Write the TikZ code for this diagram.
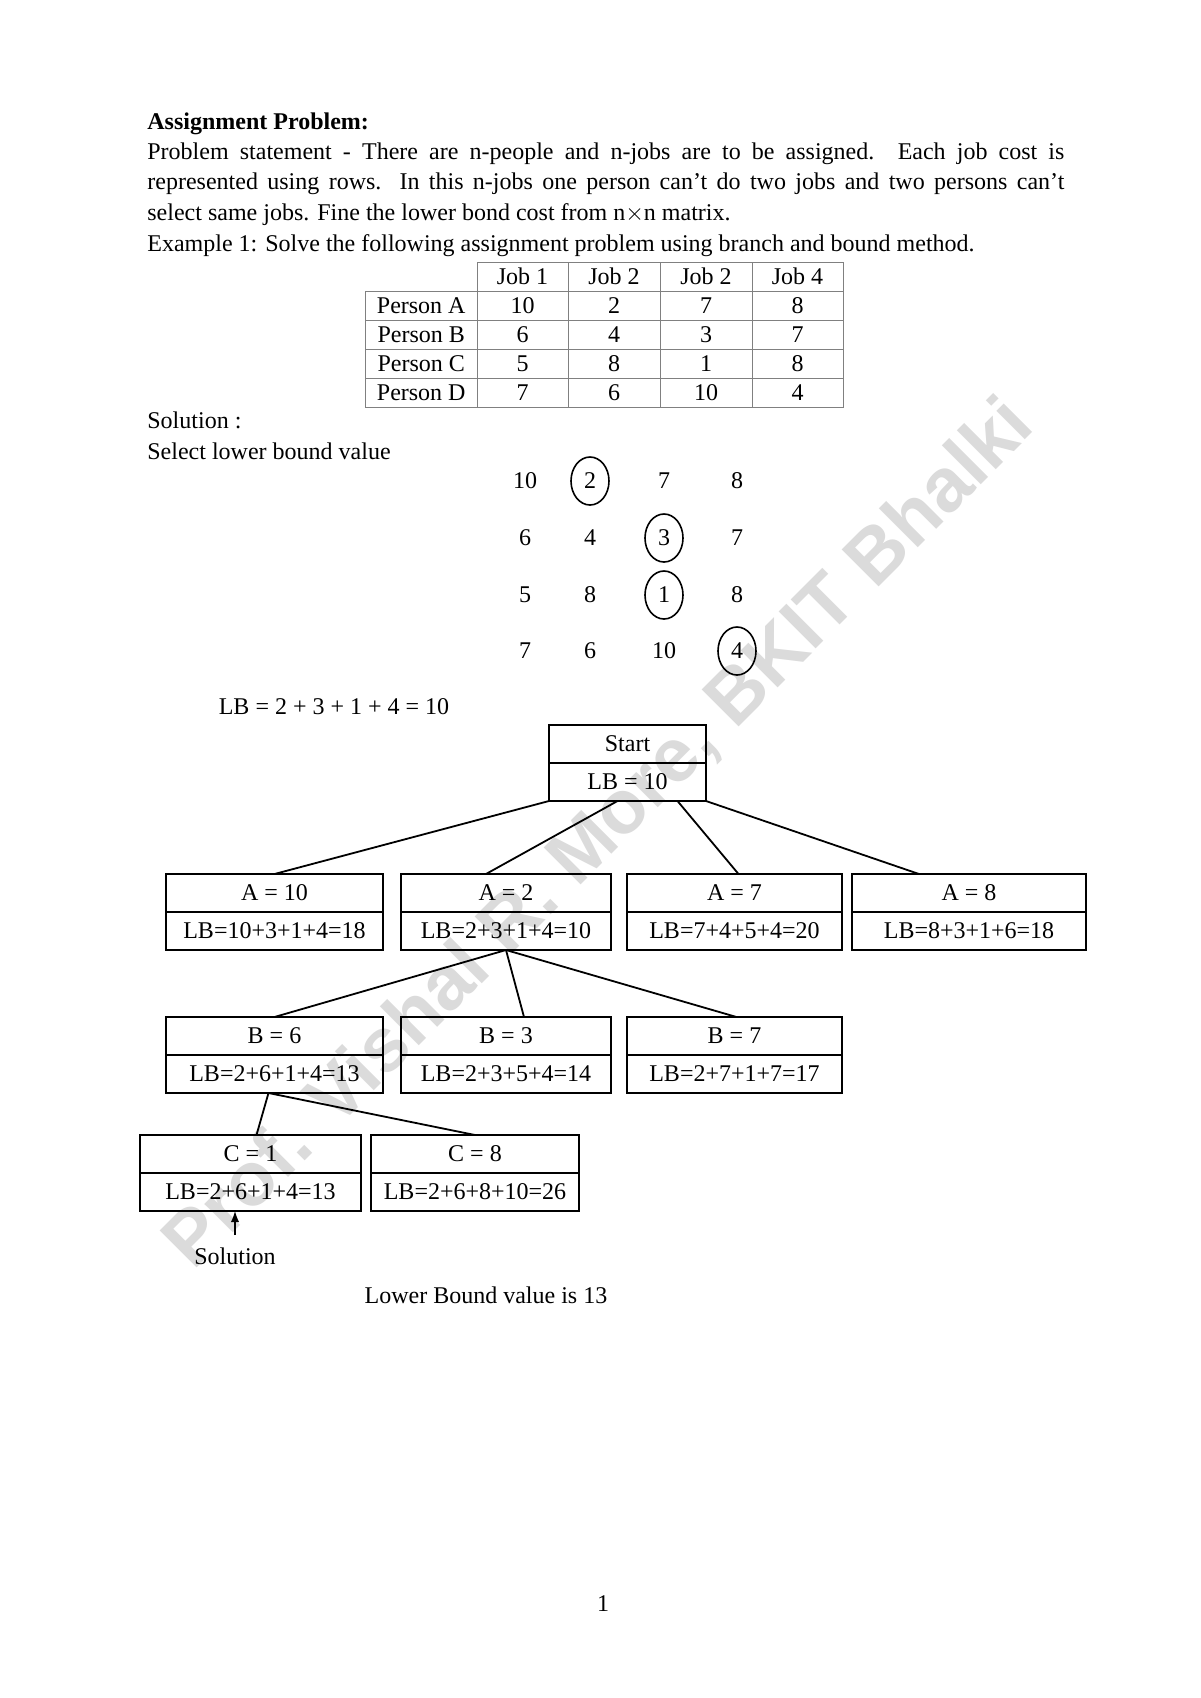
\documentclass[tikz,border=0pt]{standalone}
\usepackage{fontspec}
\usetikzlibrary{shapes.geometric}
\setmainfont{Liberation Serif}
\newfontfamily\wmfont{Liberation Sans}
\begin{document}
\begin{tikzpicture}[x=0.5pt,y=-0.5pt,
  every node/.style={font=\fontsize{12}{15.3}\selectfont, inner sep=0pt},
  cell/.style={draw, line width=1.1pt, minimum height=19pt, outer sep=0pt, anchor=north west},
  tcell/.style={draw=gray, line width=0.5pt, minimum height=14.5pt, outer sep=0pt, anchor=north west},
  circ/.style={draw, line width=0.8pt, ellipse, minimum width=19pt, minimum height=24pt},
  edge/.style={line width=0.9pt}]
\useasboundingbox (0,0) rectangle (1200,1698);
\fill[white] (0,0) rectangle (1200,1698);
% watermark
\node[rotate=45, text=gray!28, font=\wmfont\bfseries\fontsize{38}{42}\selectfont] (wm) at (600,835) {Prof. Vishal R. More, BKIT Bhalki};
% text
\node[anchor=base west] (title) at (147,129) {\textbf{Assignment Problem:}};
\node[anchor=north west, text width=458.5pt, align=justify] (para) at (147,142)
{Problem statement - There are n-people and n-jobs are to be assigned. Each job cost is\linebreak represented using rows. In this n-jobs one person can't do two jobs and two persons can't\linebreak select same jobs. Fine the lower bond cost from n$\times$n matrix.};
\node[anchor=base west] (ex) at (147,251) {Example 1: Solve the following assignment problem using branch and bound method.};
% table
\foreach \r/\lab/\a/\b/\c/\d [count=\i] in {0/{}/Job 1/Job 2/Job 2/Job 4,1/Person A/10/2/7/8,2/Person B/6/4/3/7,3/Person C/5/8/1/8,4/Person D/7/6/10/4}{
  \pgfmathsetmacro{\yy}{262+29*\r}
  \ifnum\r>0 \node[tcell, minimum width=55.75pt] (t\i0) at (365.5,\yy) {\lab};\fi
  \node[tcell, minimum width=45.5pt] (t\i1) at (477,\yy) {\a};
  \node[tcell, minimum width=46pt] (t\i2) at (568,\yy) {\b};
  \node[tcell, minimum width=46pt] (t\i3) at (660,\yy) {\c};
  \node[tcell, minimum width=45.5pt] (t\i4) at (752,\yy) {\d};
}
\node[anchor=base west] (sol) at (147,428) {Solution :};
\node[anchor=base west] (sel) at (147,459) {Select lower bound value};
% matrix
\foreach \r/\a/\b/\c/\d [count=\i] in {481/10/2/7/8,538/6/4/3/7,595/5/8/1/8,651/7/6/10/4}{
  \node (m\i1) at (525,\r) {\a};
  \node (m\i2) at (590,\r) {\b};
  \node (m\i3) at (664,\r) {\c};
  \node (m\i4) at (737,\r) {\d};
}
\node[circ] (c1) at (m12) {};
\node[circ] (c2) at (m23) {};
\node[circ] (c3) at (m33) {};
\node[circ] (c4) at (m44) {};
\node (lb) at (334,707) {LB = 2 + 3 + 1 + 4 = 10};
% tree
\node[cell, minimum width=78.5pt] (st) at (549,725) {Start};
\node[cell, minimum width=78.5pt, anchor=north] (stb) at (st.south) {LB = 10};
\foreach \n/\x/\w/\t/\u in {a1/166/108.5/A = 10/LB=10+3+1+4=18, a2/401/105/A = 2/LB=2+3+1+4=10, a3/627/107.5/A = 7/LB=7+4+5+4=20, a4/852/117/A = 8/LB=8+3+1+6=18}{
  \node[cell, minimum width=\w pt] (\n) at (\x,874) {\t};
  \node[cell, minimum width=\w pt, anchor=north] (\n b) at (\n.south) {\u};
}
\foreach \n/\x/\w/\t/\u in {b1/166/108.5/B = 6/LB=2+6+1+4=13, b2/401/105/B = 3/LB=2+3+5+4=14, b3/627/107.5/B = 7/LB=2+7+1+7=17}{
  \node[cell, minimum width=\w pt] (\n) at (\x,1017) {\t};
  \node[cell, minimum width=\w pt, anchor=north] (\n b) at (\n.south) {\u};
}
\foreach \n/\x/\w/\t/\u in {c1/140/110.5/C = 1/LB=2+6+1+4=13, c2/371/104/C = 8/LB=2+6+8+10=26}{
  \node[cell, minimum width=\w pt] (\n) at (\x,1135) {\t};
  \node[cell, minimum width=\w pt, anchor=north] (\n b) at (\n.south) {\u};
}
\draw[edge] (stb.south west) -- (a1.north);
\draw[edge] ([xshift=-5]stb.south) -- ([xshift=-10]a2.north);
\draw[edge] ([xshift=25]stb.south) -- ([xshift=2]a3.north);
\draw[edge] (stb.south east) -- ([xshift=-25]a4.north);
\draw[edge] (a2b.south) -- (b1.north);
\draw[edge] (a2b.south) -- ([xshift=9]b2.north);
\draw[edge] (a2b.south) -- ([xshift=1]b3.north);
\draw[edge] ([xshift=-3]b1b.south) -- ([xshift=3]c1.north);
\draw[edge] ([xshift=-3]b1b.south) -- ([xshift=0]c2.north);
\node (so) at (235,1256) {Solution};
\coordinate (arr) at (235,1235);
\draw[-latex, line width=0.9pt] (arr) -- (arr |- c1b.south);
\node (lbv) at (486,1295) {Lower Bound value is 13};
\node (pg) at (603,1604) {1};
\end{tikzpicture}
\end{document}
